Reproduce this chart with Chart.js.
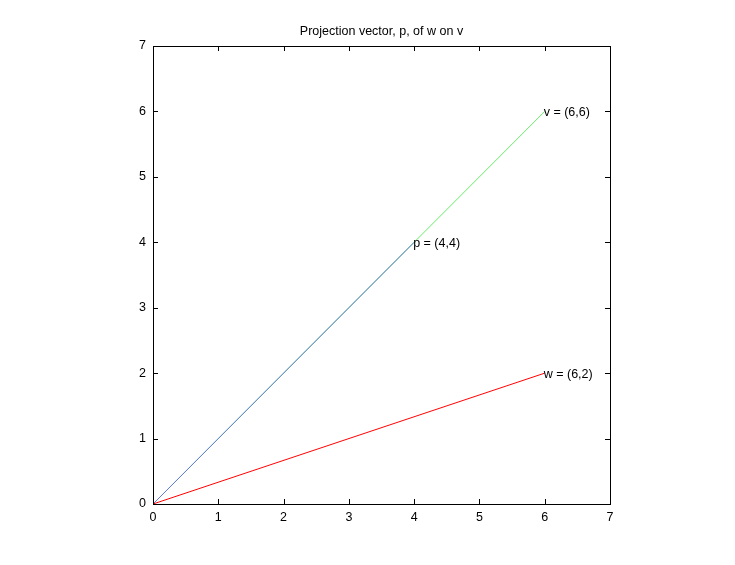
<!DOCTYPE html>
<html><head><meta charset="utf-8">
<script src="https://cdn.jsdelivr.net/npm/chart.js"></script>
<style>html,body{margin:0;padding:0;background:#fff}#c{width:735px;height:565px}</style>
</head><body><div id="c"><canvas id="cv" width="735" height="565"></canvas></div>
<script>
const ticks = [0,1,2,3,4,5,6,7];
const vLine = [{x:0,y:0},{x:6,y:6}];
const pLine = [{x:0,y:0},{x:4,y:4}];
const wLine = [{x:0,y:0},{x:6,y:2}];
const labels = [{x:6,y:6,t:'v = (6,6)'},{x:4,y:4,t:'p = (4,4)'},{x:6,y:2,t:'w = (6,2)'}];
const titleText = 'Projection vector, p, of w on v';
const F = '12.5px "Liberation Sans", Arial, sans-serif';
const deco = {
  id:'deco',
  afterDraw(c){
    const g=c.ctx,a=c.chartArea,xs=c.scales.x,ys=c.scales.y;
    g.save();
    g.strokeStyle='#000';g.lineWidth=1;
    g.strokeRect(a.left+0.5,a.top+0.5,a.right-a.left,a.bottom-a.top);
    g.beginPath();
    ticks.forEach(v=>{
      const px=Math.round(xs.getPixelForValue(v))+0.5, py=Math.round(ys.getPixelForValue(v))+0.5;
      g.moveTo(px,a.bottom);g.lineTo(px,a.bottom-5);
      g.moveTo(px,a.top);g.lineTo(px,a.top+5);
      g.moveTo(a.left,py);g.lineTo(a.left+5,py);
      g.moveTo(a.right,py);g.lineTo(a.right-5,py);
    });
    g.stroke();
    g.fillStyle='#000';g.font=F;
    g.textAlign='center';g.textBaseline='middle';
    ticks.forEach(v=>g.fillText(String(v),xs.getPixelForValue(v),a.bottom+14));
    g.textAlign='right';
    ticks.forEach(v=>g.fillText(String(v),a.left-7,ys.getPixelForValue(v)));
    g.textAlign='left';
    labels.forEach(l=>g.fillText(l.t,xs.getPixelForValue(l.x)-1,ys.getPixelForValue(l.y)+1));
    g.textAlign='center';
    g.fillText(titleText,(a.left+a.right)/2,a.top-14);
    g.restore();
  }
};
new Chart(document.getElementById('cv'),{
  type:'scatter',
  data:{datasets:[
    {data:pLine,borderColor:'#6677dd',showLine:true,pointRadius:0,borderWidth:1},
    {data:vLine,borderColor:'#66ee66',showLine:true,pointRadius:0,borderWidth:1},
    {data:wLine,borderColor:'#ff0000',showLine:true,pointRadius:0,borderWidth:1}
  ]},
  options:{
    responsive:false,animation:false,devicePixelRatio:1,
    layout:{padding:{left:153,right:125,top:46,bottom:61}},
    plugins:{legend:{display:false},tooltip:{enabled:false},title:{display:false}},
    scales:{
      x:{type:'linear',min:0,max:7,grid:{display:false},border:{display:false},ticks:{display:false},afterFit(s){s.height=0}},
      y:{type:'linear',min:0,max:7,grid:{display:false},border:{display:false},ticks:{display:false},afterFit(s){s.width=0}}
    }
  },
  plugins:[deco]
});
</script></body></html>
